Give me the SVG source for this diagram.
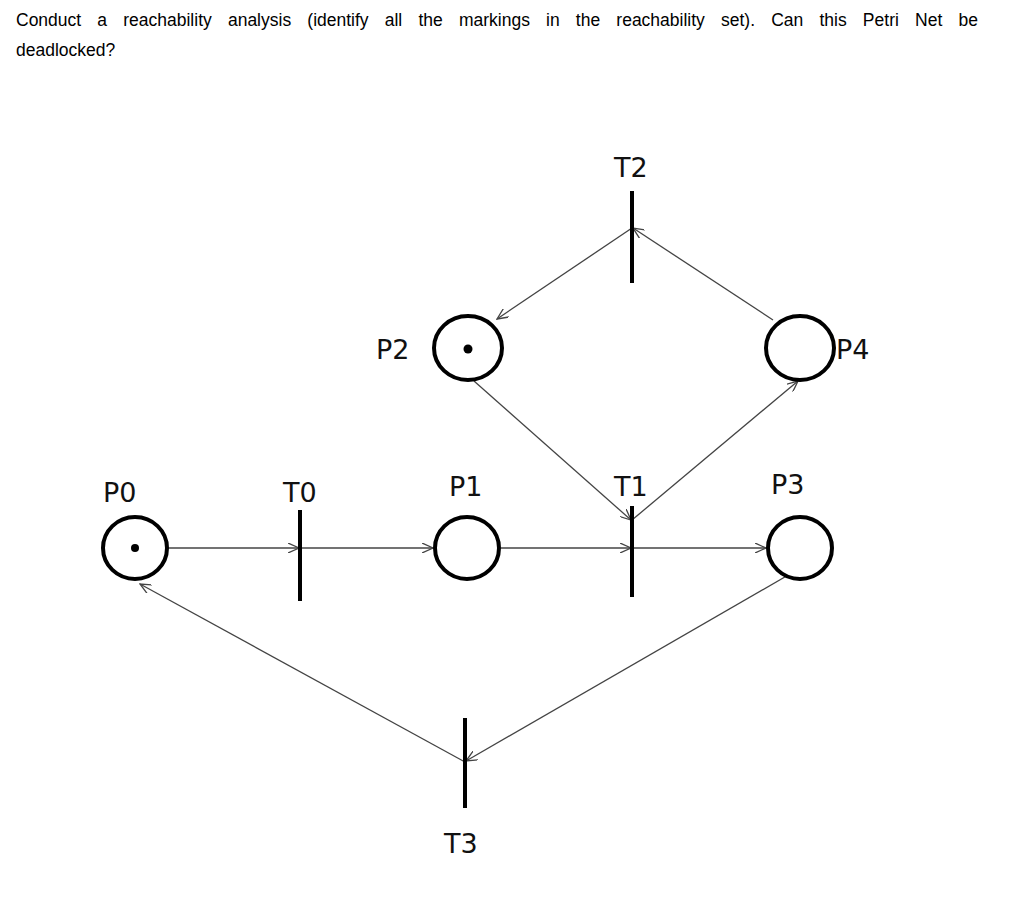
<svg xmlns="http://www.w3.org/2000/svg" width="1024" height="903" viewBox="0 0 1024 903">
<style>
.q{font-family:"Liberation Sans",Arial,sans-serif;font-size:17.5px;fill:#000}
.l{font-family:"DejaVu Sans",sans-serif;font-size:27px;fill:#111}
.p{fill:#fff;stroke:#000;stroke-width:4}
.t{stroke:#000;stroke-width:4}
.a{stroke:#444;stroke-width:1.3;fill:none;marker-end:url(#ah)}
</style>
<defs><marker id="ah" viewBox="0 0 12 10" refX="11" refY="5" markerWidth="12" markerHeight="10" markerUnits="userSpaceOnUse" orient="auto"><path d="M0,0 L11,5 L0,10" fill="none" stroke="#444" stroke-width="1.3"/></marker></defs>
<rect width="1024" height="903" fill="#fff"/>
<text class="q" x="16" y="26" word-spacing="11.3">Conduct a reachability analysis (identify all the markings in the reachability set). Can this Petri Net be</text>
<text class="q" x="16" y="56">deadlocked?</text>
<g id="connectors">
<line class="a" x1="168" y1="548" x2="299" y2="548"/>
<line class="a" x1="300" y1="548" x2="433" y2="548"/>
<line class="a" x1="501" y1="548" x2="631" y2="548"/>
<line class="a" x1="632" y1="548" x2="766" y2="548"/>
<line class="a" x1="474" y1="381" x2="631" y2="520"/>
<line class="a" x1="632" y1="520" x2="798" y2="381"/>
<line class="a" x1="773" y1="320" x2="633" y2="228"/>
<line class="a" x1="632" y1="228" x2="497" y2="319"/>
<line class="a" x1="790" y1="574" x2="466" y2="761"/>
<line class="a" x1="465" y1="762" x2="140" y2="584"/>
</g>
<g id="P0"><ellipse class="p" cx="135" cy="548" rx="32" ry="31"/><circle cx="135" cy="548" r="4"/><text class="l" x="103" y="502">P0</text></g>
<g id="T0"><line class="t" x1="300" y1="510" x2="300" y2="601"/><text class="l" x="283" y="502">T0</text></g>
<g id="P1"><ellipse class="p" cx="467" cy="548" rx="32" ry="31"/><text class="l" x="449" y="496">P1</text></g>
<g id="T1"><line class="t" x1="632" y1="506" x2="632" y2="597"/><text class="l" x="614" y="496">T1</text></g>
<g id="P3"><ellipse class="p" cx="800" cy="548" rx="32" ry="31"/><text class="l" x="771" y="494">P3</text></g>
<g id="P2"><ellipse class="p" cx="468" cy="348" rx="34" ry="32"/><circle cx="468" cy="349" r="4.5"/><text class="l" x="376" y="359">P2</text></g>
<g id="P4"><ellipse class="p" cx="800" cy="348" rx="34" ry="32"/><text class="l" x="836" y="359">P4</text></g>
<g id="T2"><line class="t" x1="632" y1="191" x2="632" y2="283"/><text class="l" x="614" y="177">T2</text></g>
<g id="T3"><line class="t" x1="465" y1="718" x2="465" y2="808"/><text class="l" x="444" y="853">T3</text></g>
</svg>
